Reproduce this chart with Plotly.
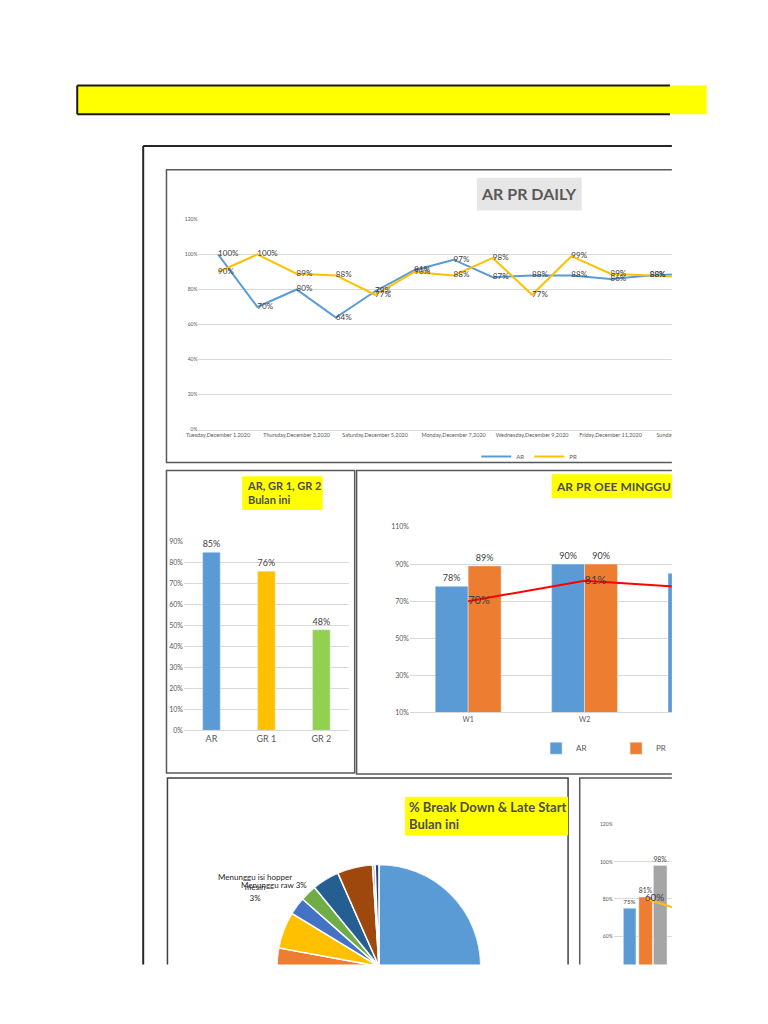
import plotly.graph_objects as go

W, H = 768, 1024
# the page puts the figure 8px in from the top left, so every position below is
# written in screenshot pixels and shifted back by that much
OFF = 8

# ---------------- data ----------------
days = ["Tuesday,December 1,2020", "Wednesday,December 2,2020", "Thursday,December 3,2020",
        "Friday,December 4,2020", "Saturday,December 5,2020", "Sunday,December 6,2020",
        "Monday,December 7,2020", "Tuesday,December 8,2020", "Wednesday,December 9,2020",
        "Thursday,December 10,2020", "Friday,December 11,2020", "Saturday,December 12,2020",
        "Sunday,December 13,2020"]
ar_daily = [1.00, 0.70, 0.80, 0.64, 0.79, 0.91, 0.97, 0.87, 0.88, 0.88, 0.86, 0.88, 0.89]
pr_daily = [0.90, 1.00, 0.89, 0.88, 0.77, 0.90, 0.88, 0.98, 0.77, 0.99, 0.89, 0.88, 0.87]

month_cats = ["AR", "GR 1", "GR 2"]
month_vals = [0.85, 0.76, 0.48]
month_colors = ["#5B9BD5", "#FFC000", "#92D050"]

weeks = ["W1", "W2", "W3"]
ar_week = [0.78, 0.90, 0.85]
pr_week = [0.89, 0.90, None]
oee_week = [0.70, 0.81, 0.77]

bd_names = ["Kategori 1", "Kategori 2", "Kategori 3", "Menunggu isi hopper mesin",
            "Menunggu raw", "Kategori 6", "Kategori 7", "Kategori 8", "Kategori 9"]
bd_vals = [74.9, 3.0, 5.8, 2.8, 2.6, 4.3, 5.6, 0.4, 0.6]
bd_colors = ["#5B9BD5", "#ED7D31", "#FFC000", "#4472C4", "#70AD47",
             "#255E91", "#9E480E", "#A5A5A5", "#264478"]
bd_show = [False, True, True, False, False, True, True, False, False]

sum_cats = ["Bulan ini", "Bulan lalu"]
sum_ar = [0.75]
sum_pr = [0.81]
sum_qr = [0.98]
sum_oee = [0.60, 0.51]

GRID = "#D9D9D9"
TXT = "#595959"
LBL = "#404040"


def pct(v):
    return f"{int(v + 0.5)}%"


def fx(x):
    return (x - OFF) / W


def fy(y):
    return 1 - (y - OFF) / H


def xd(a, b):
    return [fx(a), fx(b)]


def yd(top, bottom):
    return [fy(bottom), fy(top)]


def rect(x0, y0, x1, y1, fill=None, line=None, lw=0):
    return dict(type="rect", xref="paper", yref="paper", x0=fx(x0), x1=fx(x1),
                y0=fy(y1), y1=fy(y0), fillcolor=fill or "rgba(0,0,0,0)",
                line=dict(color=line or "rgba(0,0,0,0)", width=lw), layer="above")


def hline(x0, x1, y, color, lw):
    return dict(type="line", xref="paper", yref="paper", x0=fx(x0), x1=fx(x1),
                y0=fy(y), y1=fy(y), line=dict(color=color, width=lw), layer="above")


def vline(x, y0, y1, color, lw):
    return dict(type="line", xref="paper", yref="paper", x0=fx(x), x1=fx(x),
                y0=fy(y0), y1=fy(y1), line=dict(color=color, width=lw), layer="above")


fig = go.Figure()

# daily lines
fig.add_trace(go.Scatter(x=days, y=ar_daily, name="AR", mode="lines",
                         line=dict(color="#5B9BD5", width=2), legend="legend"))
fig.add_trace(go.Scatter(x=days, y=pr_daily, name="PR", mode="lines",
                         line=dict(color="#FFC000", width=2), legend="legend"))
for vals in (ar_daily, pr_daily):
    fig.add_trace(go.Scatter(x=days, y=vals, mode="text", texttemplate="%{y:.0%}",
                             textposition="middle right", showlegend=False,
                             textfont=dict(size=8, color=LBL)))

# monthly bars
fig.add_trace(go.Bar(x=month_cats, y=month_vals, marker_color=month_colors, width=0.32,
                     texttemplate="%{y:.0%}", textposition="outside", cliponaxis=False,
                     textfont=dict(size=9, color=LBL), showlegend=False,
                     xaxis="x2", yaxis="y2"))

# weekly bars + OEE
fig.add_trace(go.Bar(x=weeks, y=ar_week, name="AR", marker_color="#5B9BD5",
                     offset=-0.283, width=0.283, texttemplate="%{y:.0%}",
                     textposition="outside", cliponaxis=False,
                     textfont=dict(size=9, color=LBL), legend="legend2",
                     xaxis="x3", yaxis="y3"))
fig.add_trace(go.Bar(x=weeks, y=pr_week, name="PR", marker_color="#ED7D31",
                     offset=0, width=0.283, texttemplate="%{y:.0%}",
                     textposition="outside", cliponaxis=False,
                     textfont=dict(size=9, color=LBL), legend="legend2",
                     xaxis="x3", yaxis="y3"))
fig.add_trace(go.Scatter(x=weeks, y=oee_week, name="OEE", mode="lines+text",
                         line=dict(color="#FF0000", width=2), texttemplate="%{y:.0%}",
                         textposition="middle right", textfont=dict(size=11, color=LBL),
                         showlegend=False, xaxis="x3", yaxis="y3"))

# break down pie, only its upper half is inside the screenshot
total = sum(bd_vals)
widths = [v / total * 360 for v in bd_vals]
mids = []
acc = 0
for w in widths:
    mids.append(acc + w / 2)
    acc += w
fig.add_trace(go.Barpolar(r=[1] * len(bd_vals), theta=mids, width=widths,
                          marker=dict(color=bd_colors, line=dict(color="white", width=1.5)),
                          hovertext=bd_names, showlegend=False, subplot="polar"))
fig.add_trace(go.Scatterpolar(r=[1.09] * len(bd_vals), theta=mids, mode="text",
                              text=[pct(v) if s else "" for v, s in zip(bd_vals, bd_show)],
                              textfont=dict(size=6, color=TXT), cliponaxis=False,
                              showlegend=False, subplot="polar"))

# summary bars
for vals, col, off, wd in ((sum_ar, "#5B9BD5", -0.344, 0.203),
                           (sum_pr, "#ED7D31", -0.094, 0.219),
                           (sum_qr, "#A5A5A5", 0.141, 0.219)):
    fig.add_trace(go.Bar(x=sum_cats[:1], y=vals, marker_color=col, offset=off, width=wd,
                         texttemplate="%{y:.0%}", textposition="outside", cliponaxis=False,
                         textfont=dict(size=7, color=LBL), showlegend=False,
                         xaxis="x4", yaxis="y4"))
fig.add_trace(go.Scatter(x=sum_cats, y=sum_oee, mode="lines+text",
                         line=dict(color="#FFC000", width=2), texttemplate="%{y:.0%}",
                         textposition="middle right", textfont=dict(size=10, color=LBL),
                         showlegend=False, xaxis="x4", yaxis="y5"))

axis_common = dict(showgrid=False, zeroline=False, showline=True, linecolor=GRID, ticks="")
yaxis_common = dict(tickformat=".0%", gridcolor=GRID, zeroline=False, showline=False, ticks="")

shapes = [
    # chart boxes
    rect(159, 166, 700, 461, line="#595959", lw=1.5),
    rect(159, 469, 353, 774, line="#595959", lw=1.5),
    rect(355, 469, 700, 775, line="#595959", lw=1.5),
    rect(160, 779, 573, 1000, line="#404040", lw=1.5),
    rect(585, 779, 700, 1000, line="#595959", lw=1.5),
    hline(135, 700, 142, "#262626", 2),
    vline(135, 142, 1000, "#262626", 2),
    # title boxes
    rect(479, 174, 587, 207, fill="#E7E6E6"),
    rect(237, 475, 320, 509, fill="#FFFF00"),
    rect(556, 473, 700, 497, fill="#FFFF00"),
    rect(405, 798, 573, 837, fill="#FFFF00"),
    # crop of the screenshot
    rect(680, 0, 800, 1100, fill="white"),
    rect(0, 967, 800, 1100, fill="white"),
    # top banner
    rect(67, 81, 716, 110, fill="#FFFF00"),
    hline(67, 678, 81, "#1a1a1a", 2),
    hline(67, 678, 110, "#1a1a1a", 2),
    vline(67, 81, 110, "#1a1a1a", 2),
]

annotations = [
    dict(text="<b>AR PR DAILY</b>", x=fx(533), y=fy(190), font=dict(size=16, color=TXT),
         xanchor="center", yanchor="middle"),
    dict(text="<b>AR, GR 1, GR 2<br>Bulan ini</b>", x=fx(240), y=fy(491),
         font=dict(size=11, color="#4D4D4D"), xanchor="left", yanchor="middle", align="left"),
    dict(text="<b>AR PR OEE MINGGU</b>", x=fx(559), y=fy(485),
         font=dict(size=12, color="#4D4D4D"), xanchor="left", yanchor="middle"),
    dict(text="<b>% Break Down & Late Start<br>Bulan ini</b>", x=fx(407), y=fy(817),
         font=dict(size=13, color="#4D4D4D"), xanchor="left", yanchor="middle", align="left"),
    dict(text=f"Menunggu isi hopper<br>mesin<br>{pct(bd_vals[3])}", x=fx(250), y=fy(889),
         font=dict(size=8, color="#262626"), xanchor="center", yanchor="middle", align="center"),
    dict(text=f"Menunggu raw {pct(bd_vals[4])}", x=fx(270), y=fy(887),
         font=dict(size=8, color="#262626"), xanchor="center", yanchor="middle"),
]
for a in annotations:
    a.update(xref="paper", yref="paper", showarrow=False)

fig.update_layout(
    width=W, height=H, margin=dict(l=0, r=0, t=0, b=0),
    paper_bgcolor="white", plot_bgcolor="white",
    font=dict(family="Lato, Open Sans, sans-serif", color=TXT),
    barmode="overlay",
    xaxis=dict(axis_common, domain=xd(192, 720), type="category", range=[-0.5, 12.55],
               tickmode="array", tickvals=days[::2], tickfont=dict(size=5.5, color=TXT)),
    yaxis=dict(yaxis_common, domain=yd(216, 428), range=[0, 1.2], dtick=0.2,
               tickfont=dict(size=5, color=TXT)),
    xaxis2=dict(axis_common, domain=xd(177, 347), type="category", range=[-0.5, 2.5],
                tickfont=dict(size=9, color=TXT), anchor="y2"),
    yaxis2=dict(yaxis_common, domain=yd(541, 731), range=[0, 0.9], dtick=0.1,
                tickfont=dict(size=7, color=TXT), anchor="x2"),
    xaxis3=dict(axis_common, domain=xd(410, 710), type="category", range=[-0.5, 2.0],
                tickfont=dict(size=7, color=TXT), anchor="y3"),
    yaxis3=dict(yaxis_common, domain=yd(526, 713), range=[0.1, 1.1], tick0=0.1, dtick=0.2,
                tickfont=dict(size=7, color=TXT), anchor="x3"),
    xaxis4=dict(axis_common, domain=xd(620, 776), type="category", range=[-0.5, 1.94],
                showticklabels=False, anchor="y4"),
    yaxis4=dict(yaxis_common, domain=yd(826, 1032), range=[0.1, 1.2], tick0=0, dtick=0.2,
                tickfont=dict(size=5, color=TXT), anchor="x4"),
    yaxis5=dict(overlaying="y4", anchor="x4", range=[0, 0.94], visible=False),
    polar=dict(domain=dict(x=xd(273, 483), y=yd(865, 970)), sector=[0, 180],
               bgcolor="rgba(0,0,0,0)",
               radialaxis=dict(visible=False, range=[0, 1]),
               angularaxis=dict(visible=False, rotation=90, direction="clockwise")),
    legend=dict(orientation="h", x=fx(533), y=fy(455), xanchor="center", yanchor="middle",
                font=dict(size=6, color=TXT), bgcolor="rgba(0,0,0,0)"),
    legend2=dict(orientation="h", x=fx(540), y=fy(749), xanchor="left", yanchor="middle",
                 font=dict(size=8, color=TXT), bgcolor="rgba(0,0,0,0)",
                 entrywidth=35, entrywidthmode="pixels"),
    shapes=shapes,
    annotations=annotations,
)

fig.write_html("out.html")
